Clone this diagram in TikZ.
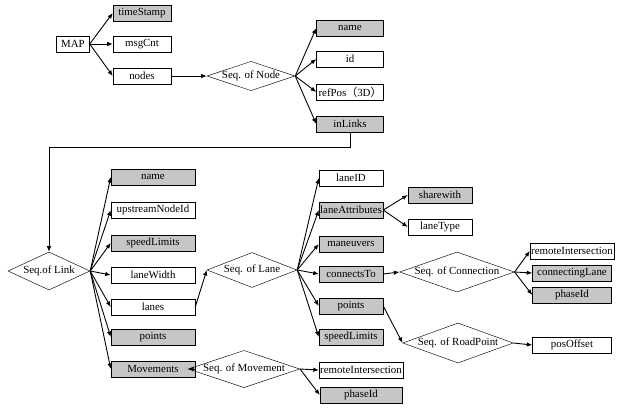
\documentclass[tikz,border=0pt]{standalone}
\usepackage{fontspec}
\setmainfont{Liberation Serif}
\newfontfamily\cjk{Noto Sans CJK SC}
\usetikzlibrary{shapes.geometric,arrows.meta}
\tikzset{
	box/.style={draw, minimum height=16*0.9pt, inner sep=1pt, font=\fontsize{9.8}{11}\selectfont},
	fbox/.style={box, fill=gray!45},
	seq/.style={draw, diamond, aspect=3, inner sep=0pt, font=\fontsize{9.8}{11}\selectfont},
	arr/.style={-{Latex[length=5pt,width=4pt]}, thick}
}
\begin{document}
\begin{tikzpicture}[x=0.9pt,y=-0.9pt]
	\useasboundingbox (0,0) rectangle (624,414);
	% top part
	\node[box, minimum width=33*0.9pt] (map) at (73,44) {MAP};
	\node[fbox, minimum width=58*0.9pt] (ts) at (142,13) {timeStamp};
	\node[box, minimum width=58*0.9pt] (msg) at (142,44) {msgCnt};
	\node[box, minimum width=58*0.9pt] (nodes) at (142,76) {nodes};
	\node[seq, minimum width=78*0.9pt, minimum height=26*0.9pt] (sn) at (251,76) {Seq. of Node};
	\node[fbox, minimum width=67*0.9pt] (nname) at (350,28) {name};
	\node[box, minimum width=67*0.9pt] (nid) at (350,59) {id};
	\node[box, minimum width=67*0.9pt] (ref) at (350,92) {refPos{\cjk （}3D{\cjk ）}};
	\node[fbox, minimum width=67*0.9pt] (inl) at (350,124) {inLinks};
	\draw[arr] (map.east) -- (ts.west);
	\draw[arr] (map.east) -- (msg.west);
	\draw[arr] (map.east) -- (nodes.west);
	\draw[arr] (nodes.east) -- (sn.west);
	\foreach \n in {nname,nid,ref,inl}
		\draw[arr] (sn.east) -- (\n.west);
	
	% links
	\node[seq, minimum width=82*0.9pt, minimum height=38*0.9pt] (sl) at (49,271) {Seq.of Link};
	\draw[arr] (inl.south) -- ++(0,15) -| (sl.north);
	\node[fbox, minimum width=84*0.9pt] (lname) at (153,177) {name};
	\node[box, minimum width=84*0.9pt] (up) at (153,210) {upstreamNodeId};
	\node[fbox, minimum width=84*0.9pt] (lspd) at (153,243) {speedLimits};
	\node[box, minimum width=84*0.9pt] (lw) at (153,275) {laneWidth};
	\node[box, minimum width=84*0.9pt] (lanes) at (153,307) {lanes};
	\node[fbox, minimum width=84*0.9pt] (lpts) at (153,337) {points};
	\node[fbox, minimum width=84*0.9pt] (mov) at (153,369) {Movements};
	\foreach \n in {lname,up,lspd,lw,lanes,lpts,mov}
		\draw[arr] (sl.east) -- (\n.west);
	
	% lanes
	\node[seq, minimum width=90*0.9pt, minimum height=35*0.9pt] (sla) at (252,270) {Seq. of Lane};
	\draw[arr] (lanes.east) -- (sla.west);
	\node[box, minimum width=64*0.9pt] (lid) at (351,178) {laneID};
	\node[fbox, minimum width=64*0.9pt] (latt) at (351,210) {laneAttributes};
	\node[fbox, minimum width=64*0.9pt] (man) at (351,244) {maneuvers};
	\node[fbox, minimum width=64*0.9pt] (ct) at (351,274) {connectsTo};
	\node[fbox, minimum width=64*0.9pt] (pts) at (351,306) {points};
	\node[fbox, minimum width=64*0.9pt] (spd) at (351,337) {speedLimits};
	\foreach \n in {lid,latt,man,ct,pts,spd}
		\draw[arr] (sla.east) -- (\n.west);
	\node[fbox, minimum width=64*0.9pt] (sw) at (440,195) {sharewith};
	\node[box, minimum width=64*0.9pt] (lt) at (440,227) {laneType};
	\draw[arr] (latt.east) -- (sw.west);
	\draw[arr] (latt.east) -- (lt.west);
	
	% connections
	\node[seq, minimum width=99*0.9pt, minimum height=40*0.9pt] (sc) at (457,272) {Seq. of Connection};
	\draw[arr] (ct.east) -- (sc.west);
	\node[box, minimum width=79*0.9pt] (ri) at (572,251) {remoteIntersection};
	\node[fbox, minimum width=79*0.9pt] (cl) at (572,273) {connectingLane};
	\node[fbox, minimum width=79*0.9pt] (ph) at (572,295) {phaseId};
	\foreach \n in {ri,cl,ph}
		\draw[arr] (sc.east) -- (\n.west);
	
	% road points
	\node[seq, minimum width=97*0.9pt, minimum height=40*0.9pt] (sr) at (458,343) {Seq. of RoadPoint};
	\draw[arr] (pts.east) -- (sr.west);
	\node[box, minimum width=79*0.9pt] (po) at (572,345) {posOffset};
	\draw[arr] (sr.east) -- (po.west);
	
	% movements
	\node[seq, minimum width=98*0.9pt, minimum height=26*0.9pt] (sm) at (244,369) {Seq. of Movement};
	\draw[arr] (mov.east) -- (sm.west);
	\node[box, minimum width=82*0.9pt] (mri) at (361,370) {remoteIntersection};
	\node[fbox, minimum width=82*0.9pt] (mph) at (361,395) {phaseId};
	\draw[arr] (sm.east) -- (mri.west);
	\draw[arr] (sm.east) -- (mph.west);
\end{tikzpicture}
\end{document}
